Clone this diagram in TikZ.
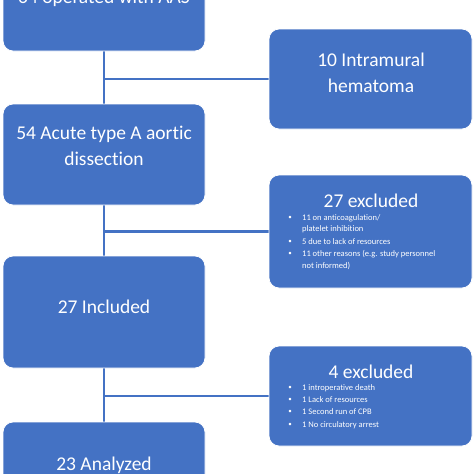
\documentclass[tikz,border=0pt]{standalone}
\usepackage{fontspec}
\setmainfont{Carlito}[Ligatures=NoCommon]
\usetikzlibrary{backgrounds}
\definecolor{boxblue}{HTML}{4472C4}
\begin{document}
\begin{tikzpicture}[x=1pt,y=-1pt,
  box/.style={draw=white, line width=0.8pt, fill=boxblue, rounded corners=10pt, inner sep=0pt},
  big/.style={text=white, font=\fontsize{19.5}{26}\selectfont, align=center, inner sep=0pt},
  small/.style={text=white, font=\fontsize{8.5}{10}\selectfont, anchor=west, inner sep=0pt},
  dot/.style={text=white, font=\fontsize{7}{8}\selectfont, inner sep=0pt},
  link/.style={draw=boxblue, line width=2.5pt}]
\useasboundingbox (0,0) rectangle (474,474);
% left column
\node[box, minimum width=202pt, minimum height=70pt] (op) at (104,16) {};
\node[box, minimum width=202pt, minimum height=101pt] (aad) at (104,154.5) {};
\node[box, minimum width=202pt, minimum height=112pt] (inc) at (104,312) {};
\node[box, minimum width=202pt, minimum height=80pt] (ana) at (104,462) {};
% right column
\node[box, minimum width=203pt, minimum height=100pt] (imh) at (370.5,79) {};
\node[box, minimum width=203pt, minimum height=113pt] (exc1) at (370.5,231.5) {};
\node[box, minimum width=203pt, minimum height=100pt] (exc2) at (370.5,396) {};
% connectors
\coordinate (j1) at (op.south |- imh.west);
\coordinate (j2) at (op.south |- exc1.west);
\coordinate (j3) at (op.south |- exc2.west);
\begin{scope}[on background layer]
\draw[link] (op.south) -- (ana.north);
\draw[link] (j1) -- (imh.west);
\draw[link] (j2) -- (exc1.west);
\draw[link] (j3) -- (exc2.west);
\end{scope}
% texts
\node[big] (t0) at (104,-2) {64 operated with AAS};
\node[big] (t1) at (104,146) {54 Acute type A aortic\\dissection};
\node[big] (t2) at (104,307) {27 Included};
\node[big] (t3) at (104,465) {23 Analyzed};
\node[big] (t4) at (371,73) {10 Intramural\\hematoma};
\node[big] (t5) at (371,201) {27 excluded};
\node[big] (t6) at (371,372) {4 excluded};
% bullets box B
\node[dot] (b1) at (290,218) {•};
\node[dot] (b2) at (290,242) {•};
\node[dot] (b3) at (290,254) {•};
\node[small] (l1) at (302,218) {11 on anticoagulation/};
\node[small] (l2) at (302,229.5) {platelet inhibition};
\node[small] (l3) at (302,242) {5 due to lack of resources};
\node[small] (l4) at (302,254) {11 other reasons (e.g. study personnel};
\node[small] (l5) at (302,266) {not informed)};
% bullets box C
\node[dot] (c1) at (290,388) {•};
\node[dot] (c2) at (290,400) {•};
\node[dot] (c3) at (290,412) {•};
\node[dot] (c4) at (290,425) {•};
\node[small] (m1) at (302,388) {1 introperative death};
\node[small] (m2) at (302,400) {1 Lack of resources};
\node[small] (m3) at (302,412) {1 Second run of CPB};
\node[small] (m4) at (302,425) {1 No circulatory arrest};
\end{tikzpicture}
\end{document}
